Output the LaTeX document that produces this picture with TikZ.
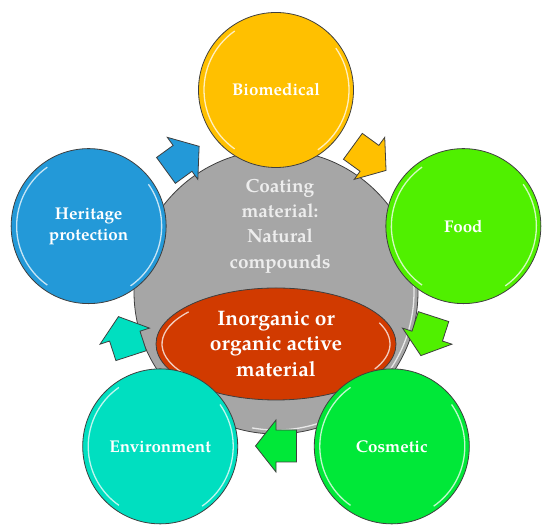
\documentclass[tikz,border=0pt]{standalone}
\usepackage{fontspec}
\setmainfont{TeX Gyre Pagella}
\usetikzlibrary{calc,shapes.geometric}
\definecolor{gold}{HTML}{FFC000}
\definecolor{leaf}{HTML}{50F000}
\definecolor{mint}{HTML}{00E838}
\definecolor{teal}{HTML}{00DFC0}
\definecolor{sky}{HTML}{2399D8}
\definecolor{coatgray}{HTML}{A6A6A6}
\definecolor{rust}{HTML}{D13A00}
\definecolor{edge}{HTML}{3F3F3F}
\begin{document}
\begin{tikzpicture}[x=1pt,y=1pt,
    ball/.style={circle,draw=edge,line width=.8pt,minimum size=155pt,inner sep=0pt,
        text=white,align=center,font=\bfseries\fontsize{17}{21}\selectfont},
    shine/.style={white,line width=1.3pt,opacity=.75},
    blk/.style={draw=edge,line width=.8pt}]
\useasboundingbox (0,0) rectangle (550,532);
\coordinate (hub) at (276,245);
% hub and its core
\node[circle,draw=edge,fill=coatgray,line width=.8pt,minimum size=284pt] (coat) at (276,240) {};
\draw[shine] ($(coat)+(-100:138)$) arc(-100:35:138);
\node[ellipse,draw=edge,fill=rust,line width=.8pt,minimum width=240pt,minimum height=112pt,
    text=white,align=center,font=\bfseries\fontsize{21}{25.5}\selectfont] (active) at (276,188)
    {Inorganic or\\organic active\\material};
\draw[shine] ($(active)+(140:114 and 50)$) arc[start angle=140,end angle=215,x radius=114,y radius=50];
\draw[shine] ($(active)+(-30:114 and 50)$) arc[start angle=-30,end angle=25,x radius=114,y radius=50];
\node[text=white!93!black,align=center,font=\bfseries\fontsize{19}{25.3}\selectfont] (coattext) at (280,306)
    {Coating\\material:\\Natural\\compounds};
% block arrows
\foreach \a/\c in {126/sky,54/gold,-18/leaf,-90/mint,198/teal}
    \draw[blk,fill=\c,shift={($(hub)+(\a:159)$)},rotate=\a-90]
        (-20.5,-16)--(0,-16)--(0,-26)--(20.5,0)--(0,26)--(0,16)--(-20.5,16)--cycle;
% the five fields
\foreach \a/\c/\nm/\t in {90/gold/bio/Biomedical,18/leaf/food/Food,-54/mint/cosm/Cosmetic,
        -126/teal/env/Environment,162/sky/her/{Heritage\\protection}}{
    \node[ball,fill=\c] (\nm) at ($(hub)+(\a:197)$) {\t};
    \draw[shine] ($(\nm)+(125:72)$) arc(125:235:72);
    \draw[shine] ($(\nm)+(-55:73)$) arc(-55:35:73);
}
\end{tikzpicture}
\end{document}
